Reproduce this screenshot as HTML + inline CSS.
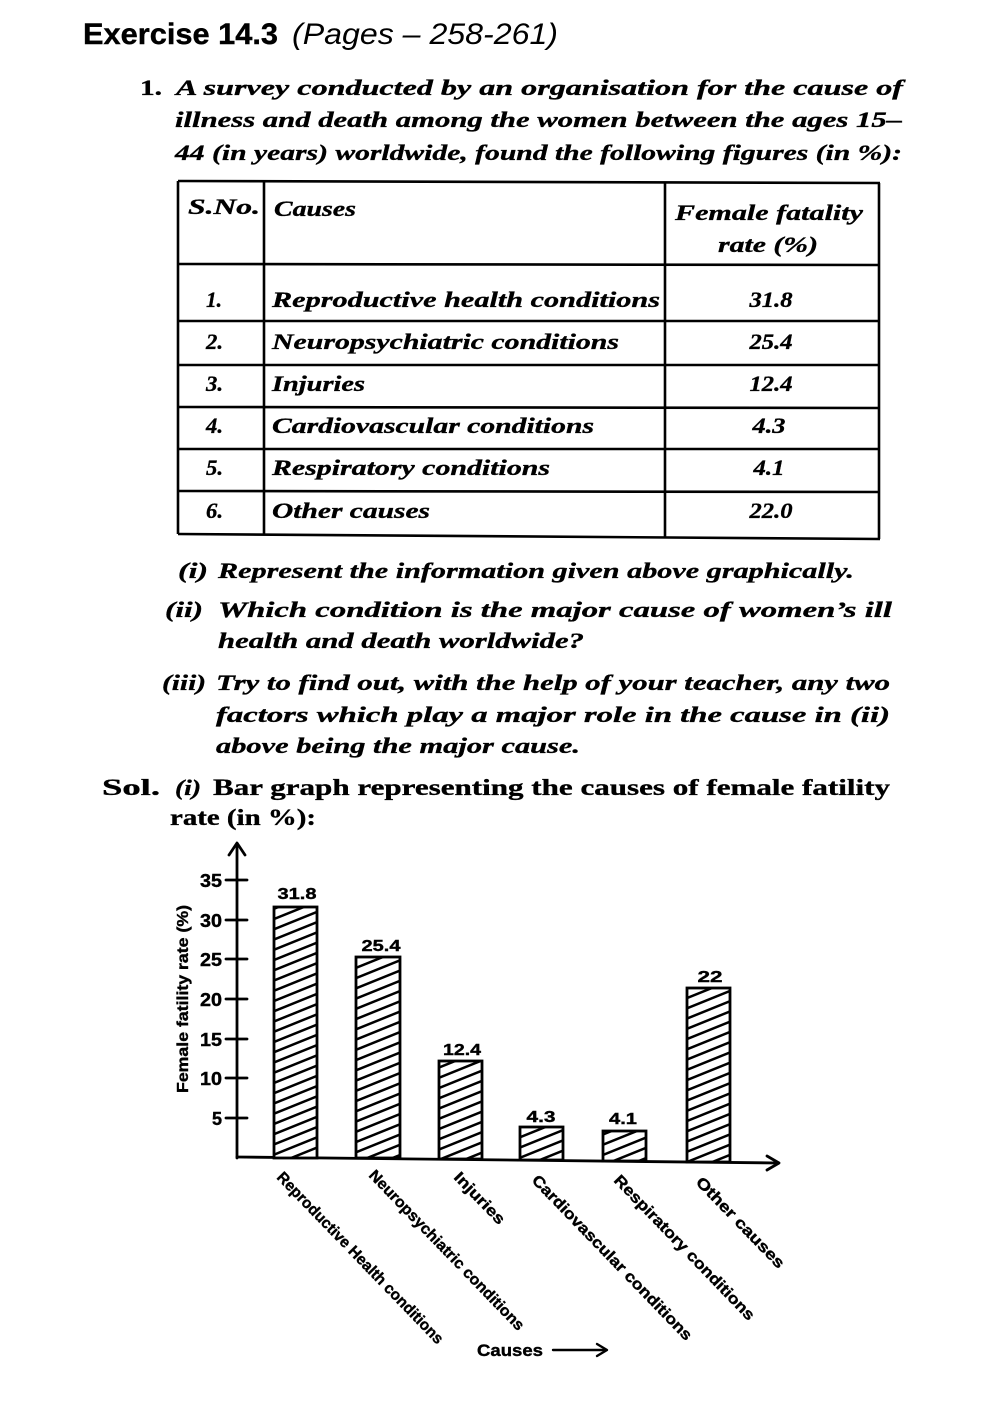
<!DOCTYPE html>
<html><head><meta charset="utf-8">
<style>
html,body{margin:0;padding:0;background:#fff;}
svg{display:block;}
.sb{font-family:"Liberation Sans",sans-serif;font-weight:bold;}
.si{font-family:"Liberation Sans",sans-serif;font-style:italic;}
.ri{font-family:"Liberation Serif",serif;font-weight:bold;font-style:italic;stroke:#000;stroke-width:0.35px;}
.rb{font-family:"Liberation Serif",serif;font-weight:bold;stroke:#000;stroke-width:0.35px;}
.sbk{font-family:"Liberation Sans",sans-serif;font-weight:bold;stroke:#000;stroke-width:0.4px;}
</style></head>
<body>
<svg width="1004" height="1428" viewBox="0 0 1004 1428" xmlns="http://www.w3.org/2000/svg">
<defs>
<pattern id="h" patternUnits="userSpaceOnUse" width="30" height="9.5" patternTransform="rotate(-22)">
<rect width="30" height="9.5" fill="#fff"/>
<line x1="0" y1="4.75" x2="30" y2="4.75" stroke="#000" stroke-width="2.5"/>
</pattern>
</defs>
<rect width="1004" height="1428" fill="#fff"/>

<!-- Title -->
<text class="sbk" x="83" y="44" font-size="30" textLength="195" lengthAdjust="spacingAndGlyphs">Exercise 14.3</text>
<text class="si" x="292" y="44" font-size="30" textLength="266" lengthAdjust="spacingAndGlyphs">(Pages – 258-261)</text>

<!-- Question paragraph -->
<text class="rb" x="140" y="95" font-size="22" textLength="22" lengthAdjust="spacingAndGlyphs">1.</text>
<text class="ri" x="176" y="95" font-size="22" textLength="727" lengthAdjust="spacingAndGlyphs">A survey conducted by an organisation for the cause of</text>
<text class="ri" x="175" y="127" font-size="22" textLength="727" lengthAdjust="spacingAndGlyphs">illness and death among the women between the ages 15–</text>
<text class="ri" x="175" y="160" font-size="22" textLength="727" lengthAdjust="spacingAndGlyphs">44 (in years) worldwide, found the following figures (in %):</text>

<!-- Table -->
<g stroke="#000" stroke-width="2.6" fill="none">
<line x1="178" y1="181" x2="880" y2="183"/>
<line x1="178" y1="264" x2="880" y2="265"/>
<line x1="178" y1="321" x2="880" y2="321"/>
<line x1="178" y1="365" x2="880" y2="365"/>
<line x1="178" y1="407" x2="880" y2="408"/>
<line x1="178" y1="449" x2="880" y2="449"/>
<line x1="178" y1="491" x2="880" y2="492"/>
<line x1="178" y1="534" x2="880" y2="539"/>
<line x1="178" y1="181" x2="178" y2="534"/>
<line x1="879" y1="183" x2="879" y2="539"/>
<line x1="264" y1="181" x2="264" y2="535"/>
<line x1="665" y1="182" x2="665" y2="537"/>
</g>
<g class="ri" font-size="22">
<text x="188" y="214" textLength="72" lengthAdjust="spacingAndGlyphs">S.No.</text>
<text x="274" y="216" textLength="82" lengthAdjust="spacingAndGlyphs">Causes</text>
<text x="675" y="220" textLength="188" lengthAdjust="spacingAndGlyphs">Female fatality</text>
<text x="718" y="252" textLength="100" lengthAdjust="spacingAndGlyphs">rate (%)</text>

<text x="206" y="307" textLength="16" lengthAdjust="spacingAndGlyphs">1.</text>
<text x="206" y="349" textLength="17" lengthAdjust="spacingAndGlyphs">2.</text>
<text x="206" y="391" textLength="17" lengthAdjust="spacingAndGlyphs">3.</text>
<text x="206" y="433" textLength="17" lengthAdjust="spacingAndGlyphs">4.</text>
<text x="206" y="475" textLength="17" lengthAdjust="spacingAndGlyphs">5.</text>
<text x="206" y="518" textLength="17" lengthAdjust="spacingAndGlyphs">6.</text>

<text x="272" y="307" textLength="388" lengthAdjust="spacingAndGlyphs">Reproductive health conditions</text>
<text x="272" y="349" textLength="347" lengthAdjust="spacingAndGlyphs">Neuropsychiatric conditions</text>
<text x="272" y="391" textLength="93" lengthAdjust="spacingAndGlyphs">Injuries</text>
<text x="272" y="433" textLength="322" lengthAdjust="spacingAndGlyphs">Cardiovascular conditions</text>
<text x="272" y="475" textLength="278" lengthAdjust="spacingAndGlyphs">Respiratory conditions</text>
<text x="272" y="518" textLength="158" lengthAdjust="spacingAndGlyphs">Other causes</text>

<text x="771" y="307" text-anchor="middle" textLength="43" lengthAdjust="spacingAndGlyphs">31.8</text>
<text x="771" y="349" text-anchor="middle" textLength="43" lengthAdjust="spacingAndGlyphs">25.4</text>
<text x="771" y="391" text-anchor="middle" textLength="43" lengthAdjust="spacingAndGlyphs">12.4</text>
<text x="769" y="433" text-anchor="middle" textLength="33" lengthAdjust="spacingAndGlyphs">4.3</text>
<text x="769" y="475" text-anchor="middle" textLength="31" lengthAdjust="spacingAndGlyphs">4.1</text>
<text x="771" y="518" text-anchor="middle" textLength="43" lengthAdjust="spacingAndGlyphs">22.0</text>
</g>

<!-- Sub questions -->
<g class="ri" font-size="22">
<text x="178" y="578" textLength="30" lengthAdjust="spacingAndGlyphs">(i)</text>
<text x="218" y="578" textLength="636" lengthAdjust="spacingAndGlyphs">Represent the information given above graphically.</text>
<text x="165" y="617" textLength="38" lengthAdjust="spacingAndGlyphs">(ii)</text>
<text x="218" y="617" textLength="674" lengthAdjust="spacingAndGlyphs">Which condition is the major cause of women’s ill</text>
<text x="218" y="648" textLength="366" lengthAdjust="spacingAndGlyphs">health and death worldwide?</text>
<text x="162" y="690" textLength="44" lengthAdjust="spacingAndGlyphs">(iii)</text>
<text x="216" y="690" textLength="674" lengthAdjust="spacingAndGlyphs">Try to find out, with the help of your teacher, any two</text>
<text x="216" y="722" textLength="674" lengthAdjust="spacingAndGlyphs">factors which play a major role in the cause in (ii)</text>
<text x="216" y="753" textLength="364" lengthAdjust="spacingAndGlyphs">above being the major cause.</text>
</g>
<text class="rb" x="102" y="795" font-size="23" textLength="58" lengthAdjust="spacingAndGlyphs">Sol.</text>
<text class="ri" x="175" y="795" font-size="22" textLength="26" lengthAdjust="spacingAndGlyphs">(i)</text>
<text class="rb" x="213" y="795" font-size="23" textLength="677" lengthAdjust="spacingAndGlyphs">Bar graph representing the causes of female fatility</text>
<text class="rb" x="170" y="825" font-size="23" textLength="146" lengthAdjust="spacingAndGlyphs">rate (in %):</text>

<!-- Chart -->
<g stroke="#000" stroke-width="2.8" fill="none" stroke-linecap="round" stroke-linejoin="round">
<line x1="237" y1="1158" x2="237" y2="845"/>
<polyline points="229,855 237,843 245,855"/>
<line x1="237" y1="1157" x2="778" y2="1163"/>
<polyline points="767,1156 779,1163 767,1170"/>
<line x1="226" y1="880" x2="247" y2="880"/>
<line x1="226" y1="920" x2="247" y2="920"/>
<line x1="226" y1="959" x2="247" y2="959"/>
<line x1="226" y1="999" x2="247" y2="999"/>
<line x1="226" y1="1039" x2="247" y2="1039"/>
<line x1="226" y1="1078" x2="247" y2="1078"/>
<line x1="226" y1="1118" x2="247" y2="1118"/>
</g>
<g class="sbk" font-size="18" text-anchor="end">
<text x="222" y="887" textLength="22" lengthAdjust="spacingAndGlyphs">35</text>
<text x="222" y="927" textLength="22" lengthAdjust="spacingAndGlyphs">30</text>
<text x="222" y="966" textLength="22" lengthAdjust="spacingAndGlyphs">25</text>
<text x="222" y="1006" textLength="22" lengthAdjust="spacingAndGlyphs">20</text>
<text x="222" y="1046" textLength="22" lengthAdjust="spacingAndGlyphs">15</text>
<text x="222" y="1085" textLength="22" lengthAdjust="spacingAndGlyphs">10</text>
<text x="222" y="1125">5</text>
</g>
<text class="sbk" font-size="16" transform="translate(188,999) rotate(-90)" text-anchor="middle" textLength="188" lengthAdjust="spacingAndGlyphs">Female fatility rate (%)</text>

<g stroke="#000" stroke-width="2.8" fill="url(#h)">
<rect x="274" y="907" width="43" height="251"/>
<rect x="356" y="957" width="44" height="201"/>
<rect x="439" y="1061" width="43" height="98"/>
<rect x="520" y="1127" width="43" height="33"/>
<rect x="603" y="1131" width="43" height="30"/>
<rect x="687" y="988" width="43" height="174"/>
</g>
<g class="sbk" font-size="16" text-anchor="middle">
<text x="297" y="899" textLength="39" lengthAdjust="spacingAndGlyphs">31.8</text>
<text x="381" y="951" textLength="39" lengthAdjust="spacingAndGlyphs">25.4</text>
<text x="462" y="1055" textLength="38" lengthAdjust="spacingAndGlyphs">12.4</text>
<text x="541" y="1122" textLength="29" lengthAdjust="spacingAndGlyphs">4.3</text>
<text x="623" y="1124" textLength="28" lengthAdjust="spacingAndGlyphs">4.1</text>
<text x="710" y="982" textLength="25" lengthAdjust="spacingAndGlyphs">22</text>
</g>

<g class="sbk" font-size="15.5">
<text transform="translate(276,1178) rotate(46)" textLength="232" lengthAdjust="spacingAndGlyphs">Reproductive Health conditions</text>
<text transform="translate(368,1176) rotate(46)" textLength="216" lengthAdjust="spacingAndGlyphs">Neuropsychiatric conditions</text>
<text transform="translate(453,1178) rotate(46)" textLength="66" lengthAdjust="spacingAndGlyphs">Injuries</text>
<text transform="translate(531,1181) rotate(46)" textLength="223" lengthAdjust="spacingAndGlyphs">Cardiovascular conditions</text>
<text transform="translate(613,1181) rotate(46)" textLength="195" lengthAdjust="spacingAndGlyphs">Respiratory conditions</text>
<text transform="translate(695,1183) rotate(46)" textLength="120" lengthAdjust="spacingAndGlyphs">Other causes</text>
</g>
<text class="sbk" x="477" y="1356" font-size="17" textLength="66" lengthAdjust="spacingAndGlyphs">Causes</text>
<g stroke="#000" stroke-width="2.4" fill="none" stroke-linecap="round" stroke-linejoin="round">
<line x1="553" y1="1350" x2="606" y2="1350"/>
<polyline points="597,1344 607,1350 597,1356"/>
</g>
</svg>
</body></html>
